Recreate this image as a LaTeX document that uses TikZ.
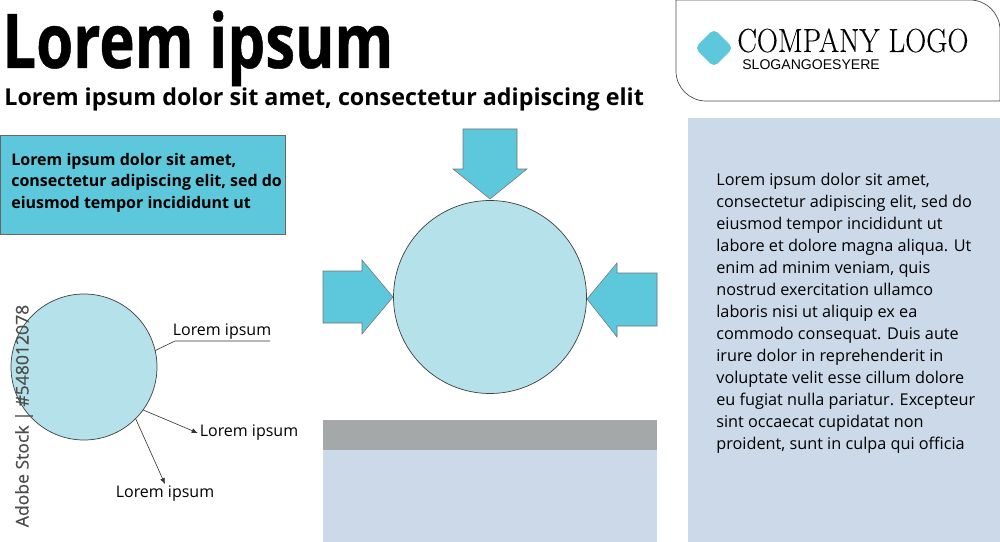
\documentclass[tikz,border=0pt]{standalone}
\usepackage{fontspec}
\setmainfont{Open Sans}
\newfontfamily\titlefont[FakeStretch=0.793,FakeBold=0.6]{Open Sans}
\newfontfamily\slogfont{Liberation Sans}
\newfontfamily\logofont[FakeStretch=0.875,FakeBold=0.15]{Latin Modern Roman}
\newfontfamily\stampfont[FakeBold=0.5]{Open Sans}
\usetikzlibrary{arrows.meta,shapes.geometric}
\definecolor{tealbox}{HTML}{5DC8DB}
\definecolor{paleteal}{HTML}{B5E2EA}
\definecolor{paleblue}{HTML}{CBD9E8}
\definecolor{barsgray}{HTML}{A4A8A8}
\begin{document}
\begin{tikzpicture}[x=0.2mm,y=-0.2mm,
    bubble/.style={draw=black!75,circle,inner sep=0pt,outer sep=0pt,fill=paleteal,line width=0.4pt},
    pusher/.style={draw=black!55,fill=tealbox,line width=0.3pt},
    panel/.style={fill=paleblue},
    callout/.style={font=\fontsize{9.1}{11}\selectfont,inner sep=1pt},
    leader/.style={draw=black!80,line width=0.35pt},
    body/.style={align=left,anchor=north west,inner sep=0pt}]
    \useasboundingbox (0,0) rectangle (1000,542);

    \node[anchor=base west,inner sep=0pt] (maintitle) at (2,68) {\titlefont\bfseries\fontsize{43}{48}\selectfont Lorem ipsum};
    \node[anchor=west,inner sep=0pt] (subtitle) at (4,99) {\bfseries\fontsize{13.25}{16}\selectfont Lorem ipsum dolor sit amet, consectetur adipiscing elit};

    % logo
    \draw[black!70,line width=0.4pt] (676,50) [sharp corners] -- (676,0) [rounded corners=6mm] -- (1000,0) [sharp corners] -- (1000,101) [rounded corners=6mm] -- (676,101) -- (676,50);
    \node[draw=none,fill=tealbox,rotate=45,minimum size=5.4mm,inner sep=0pt,rounded corners=1mm] (logomark) at (714,48) {};
    \node[anchor=base west,inner sep=0pt] (logoname) at (737,52) {\logofont\fontsize{19}{21}\selectfont COMPANY LOGO};
    \node[anchor=west,inner sep=0pt] (slogan) at (742,65) {\slogfont\fontsize{8}{9}\selectfont SLOGANGOESYERE};

    % left column
    \node[draw=black!60,fill=tealbox,line width=0.3pt,minimum width=5.7cm,minimum height=1.98cm,inner sep=0pt,anchor=north west] (intro) at (0,135) {};
    \node[body,font=\bfseries\fontsize{9.1}{12.2}\selectfont] (introtext) at (11,153) {Lorem ipsum dolor sit amet,\\ consectetur adipiscing elit, sed do\\ eiusmod tempor incididunt ut};

    \node[bubble,minimum size=2.92cm] (smallball) at (84,367) {};
    \node[callout] (labeltop) at (222,332) {Lorem ipsum};
    \node[callout] (labelright) at (249,433) {Lorem ipsum};
    \node[callout] (labelbelow) at (165,494) {Lorem ipsum};
    \coordinate (elbow) at (175,341);
    \coordinate (shelf) at (270,341);
    \draw[leader] (smallball.13) -- (elbow) -- (shelf);
    \draw[leader,-{Latex[length=1.2mm,width=1mm]}] (smallball.-36) -- (labelright.west);
    \draw[leader,-{Latex[length=1.2mm,width=1mm]}] (smallball.-45) -- (labelbelow.north);

    \node[rotate=90,text=black!70,inner sep=0pt] (stamp) at (24,416) {\stampfont\fontsize{10}{12}\selectfont Adobe Stock | \#548012078};

    % centre column
    \node[bubble,minimum size=3.86cm] (bigball) at (490,297) {};
    \draw[pusher] (463,129) -- (517,129) -- (517,169) -- (527,169) -- (490,199) -- (453,169) -- (463,169) -- cycle;
    \draw[pusher] (323,271) -- (362,271) -- (362,260) -- (393,297) -- (362,334) -- (362,323) -- (323,323) -- cycle;
    \draw[pusher] (657,273) -- (617,273) -- (617,263) -- (587,299) -- (617,337) -- (617,326) -- (657,326) -- cycle;

    \fill[panel] (323,450) rectangle (657,542);
    \fill[barsgray] (323,420) rectangle (657,450);

    % right column
    \fill[panel] (688,118) rectangle (1000,542);
    \node[body,font=\fontsize{9.25}{12.5}\selectfont] (bodytext) at (716,173) {Lorem ipsum dolor sit amet,\\
      consectetur adipiscing elit, sed do\\
      eiusmod tempor incididunt ut\\
      labore et dolore magna aliqua. Ut\\
      enim ad minim veniam, quis\\
      nostrud exercitation ullamco\\
      laboris nisi ut aliquip ex ea\\
      commodo consequat. Duis aute\\
      irure dolor in reprehenderit in\\
      voluptate velit esse cillum dolore\\
      eu fugiat nulla pariatur. Excepteur\\
      sint occaecat cupidatat non\\
      proident, sunt in culpa qui officia};
  \end{tikzpicture}
\end{document}
